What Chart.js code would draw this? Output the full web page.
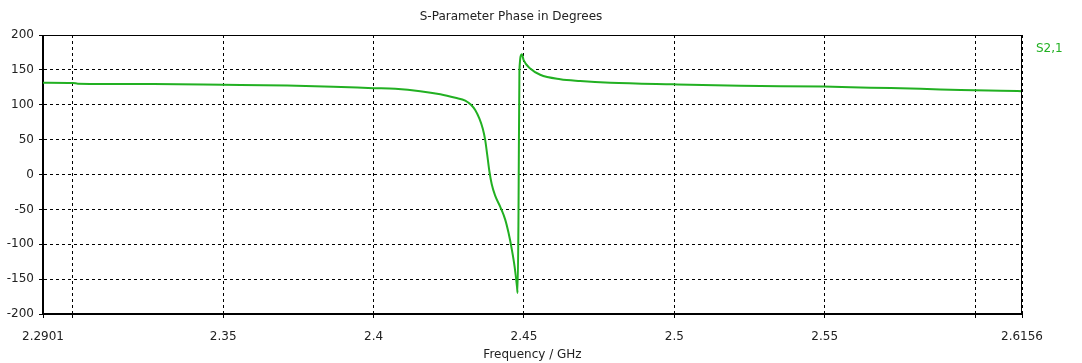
<!DOCTYPE html>
<html>
<head>
<meta charset="utf-8">
<title>S-Parameter Phase in Degrees</title>
<script src="https://cdn.jsdelivr.net/npm/chart.js@4.4.0/dist/chart.umd.min.js"></script>
<style>
    html, body { margin: 0; padding: 0; background: #fff; }
    #wrap { width: 1082px; height: 363px; }
</style>
</head>
<body>
<div id="wrap"><canvas id="phaseChart" width="1082" height="363"></canvas></div>
<script>
// Data
const freqGHz = [
    2.2901, 2.3001, 2.3017, 2.3267, 2.3500, 2.3713, 2.3866, 2.4000, 2.4072, 2.4155,
    2.4222, 2.4272, 2.4305, 2.4324, 2.4338, 2.4352, 2.4363, 2.4371, 2.4378, 2.4385,
    2.4393, 2.4404, 2.4422, 2.4438, 2.4449, 2.4460, 2.4469, 2.4477, 2.4479, 2.4482,
    2.4485, 2.4493, 2.4499, 2.4521, 2.4554, 2.4621, 2.4687, 2.4787, 2.4997, 2.5220,
    2.5496, 2.5652, 2.5819, 2.5952, 2.6085, 2.6156
];
const phaseS21 = [
    131.6, 131.2, 130.2, 129.6, 128.6, 127.5, 125.8, 123.8, 122.8, 119.5,
    115.0, 110.0, 106.0, 100.0, 92.5, 80.0, 66.0, 50.0, 28.0, 5.0,
    -14.0, -30.0, -47.0, -65.0, -84.0, -108.0, -132.0, -161.0, -170.0, -55.0,
    150.0, 172.5, 164.0, 152.0, 143.0, 136.5, 134.0, 131.6, 129.3, 127.3,
    126.0, 124.4, 123.0, 121.0, 120.0, 119.5
];
const seriesName = "S2,1";
const xTickValues = [2.2901, 2.3, 2.35, 2.4, 2.45, 2.5, 2.55, 2.6, 2.6156];
const xTickLabels = ["2.2901", "", "2.35", "2.4", "2.45", "2.5", "2.55", "", "2.6156"];
const yTickValues = [-200, -150, -100, -50, 0, 50, 100, 150, 200];

const lineGreen = "#22b022";
const fontFamily = "'DejaVu Sans', sans-serif";

// plot frame + series label on the right
const framePlugin = {
    id: "frame",
    afterDraw(chart) {
        const { ctx, chartArea } = chart;
        ctx.save();
        ctx.strokeStyle = "#000";
        ctx.lineWidth = 1;
        ctx.strokeRect(Math.round(chartArea.left) - 0.5, Math.round(chartArea.top) + 0.5,
            Math.round(chartArea.right - chartArea.left), Math.round(chartArea.bottom - chartArea.top) - 1);
        ctx.fillStyle = lineGreen;
        ctx.font = "12px " + fontFamily;
        ctx.textAlign = "left";
        ctx.textBaseline = "middle";
        ctx.fillText(chart.data.datasets[0].label, chartArea.right + 14, chartArea.top + 14);
        ctx.restore();
    }
};

const points = freqGHz.map((f, i) => ({ x: f, y: phaseS21[i] }));

new Chart(document.getElementById("phaseChart"), {
    type: "line",
    data: {
        datasets: [{
            label: seriesName,
            data: points,
            borderColor: lineGreen,
            borderWidth: 2,
            pointRadius: 0,
            fill: false,
            cubicInterpolationMode: "monotone"
        }]
    },
    options: {
        responsive: false,
        animation: false,
        layout: { padding: { left: 0, right: 60, top: 0, bottom: 0 } },
        plugins: {
            legend: { display: false },
            tooltip: { enabled: false },
            title: {
                display: true,
                text: "S-Parameter Phase in Degrees",
                color: "#222",
                font: { family: fontFamily, size: 12, weight: "normal" },
                padding: { top: 10, bottom: 10.6 }
            }
        },
        scales: {
            x: {
                type: "linear",
                position: "bottom",
                min: 2.2901,
                max: 2.6156,
                afterBuildTicks: s => { s.ticks = xTickValues.map(v => ({ value: v })); },
                afterFit: s => { s.height = 49; },
                ticks: {
                    autoSkip: false,
                    maxRotation: 0,
                    padding: 12,
                    color: "#222",
                    font: { family: fontFamily, size: 12 },
                    callback: (v, i) => xTickLabels[i]
                },
                grid: { color: "#000", lineWidth: 1, tickLength: 4 },
                border: { display: true, color: "#000", width: 1, dash: [3, 3] },
                title: {
                    display: true,
                    text: "Frequency / GHz",
                    color: "#222",
                    font: { family: fontFamily, size: 12 },
                    padding: { top: 0, bottom: 1 }
                }
            },
            y: {
                min: -200,
                max: 200,
                afterBuildTicks: s => { s.ticks = yTickValues.map(v => ({ value: v })); },
                afterFit: s => { s.width = 43; },
                ticks: {
                    padding: 5,
                    color: "#222",
                    font: { family: fontFamily, size: 12 }
                },
                grid: { color: "#000", lineWidth: 1, tickLength: 4 },
                border: { display: true, color: "#000", width: 1, dash: [3, 3] }
            }
        }
    },
    plugins: [framePlugin]
});
</script>
</body>
</html>
